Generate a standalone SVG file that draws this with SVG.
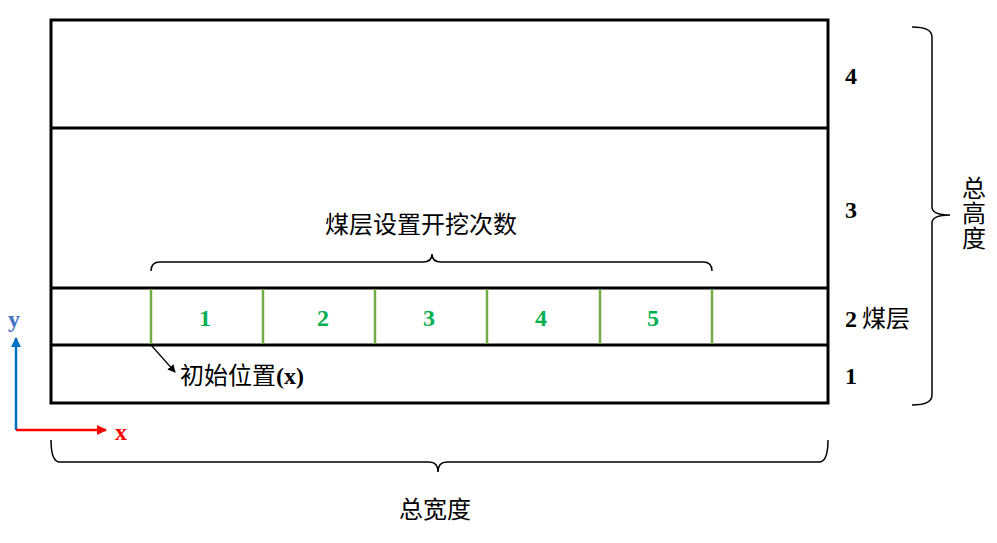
<svg xmlns="http://www.w3.org/2000/svg" width="997" height="543" viewBox="0 0 997 543">
<style>
.b{stroke:#000;stroke-width:3;fill:none}
.g{stroke:#70ad47;stroke-width:2.5}
.br{stroke:#000;stroke-width:1.5;fill:none}
.n{font-family:"Liberation Serif",serif;font-weight:bold;font-size:24px}
.gn{font-family:"Liberation Serif",serif;font-weight:bold;font-size:24px;fill:#00b050;text-anchor:middle}
.c{font-family:"Liberation Serif","Noto Sans CJK SC",serif;font-size:24px}
</style>
<defs>
<marker id="ah" markerWidth="8" markerHeight="8" refX="7" refY="4" orient="auto" markerUnits="userSpaceOnUse"><path d="M0,0L8,4L0,8z" fill="#000"/></marker>
<marker id="ab" markerWidth="10" markerHeight="10" refX="9" refY="5" orient="auto" markerUnits="userSpaceOnUse"><path d="M0,0L10,5L0,10z" fill="#0070c0"/></marker>
<marker id="ar" markerWidth="10" markerHeight="10" refX="9" refY="5" orient="auto" markerUnits="userSpaceOnUse"><path d="M0,0L10,5L0,10z" fill="#ff0000"/></marker>
</defs>
<g id="strata">
<rect class="b" x="51" y="20" width="777" height="383"/>
<line class="b" x1="51" y1="128" x2="828" y2="128"/>
<line class="b" x1="51" y1="288" x2="828" y2="288"/>
<line class="b" x1="51" y1="345" x2="828" y2="345"/>
</g>
<g id="steps">
<line class="g" x1="151" y1="289" x2="151" y2="344"/>
<line class="g" x1="263" y1="289" x2="263" y2="344"/>
<line class="g" x1="375" y1="289" x2="375" y2="344"/>
<line class="g" x1="487" y1="289" x2="487" y2="344"/>
<line class="g" x1="600" y1="289" x2="600" y2="344"/>
<line class="g" x1="712" y1="289" x2="712" y2="344"/>
<text class="gn" x="205" y="326">1</text>
<text class="gn" x="323" y="326">2</text>
<text class="gn" x="429" y="326">3</text>
<text class="gn" x="541" y="326">4</text>
<text class="gn" x="653" y="326">5</text>
</g>
<g id="labels">
<text class="n" x="845" y="84">4</text>
<text class="n" x="845" y="218">3</text>
<text class="n" x="845" y="327">2</text>
<text class="c" x="862" y="327">煤层</text>
<text class="n" x="845" y="384">1</text>
<text class="c" x="325" y="233">煤层设置开挖次数</text>
<text class="c" x="180" y="384">初始位置<tspan font-weight="bold">(x)</tspan></text>
<text class="c" x="399" y="518">总宽度</text>
<text class="c" x="962" y="197">总</text>
<text class="c" x="962" y="222">高</text>
<text class="c" x="962" y="247">度</text>
<text x="8" y="327" font-family="Liberation Serif,serif" font-weight="bold" font-size="24" fill="#4472c4">y</text>
<text x="115" y="440" font-family="Liberation Serif,serif" font-weight="bold" font-size="24" fill="#ff0000">x</text>
</g>
<g id="connectors">
<path class="br" d="M151,271 Q151,262 160,262 L423,262 Q432,262 432,254 Q432,262 441,262 L703,262 Q712,262 712,271"/>
<path class="br" d="M51,440 Q51,462 60,462 L429,462 Q438,462 438,472 Q438,462 447,462 L819,462 Q828,462 828,440"/>
<path class="br" d="M912,27 Q932,27 932,37 L932,207 Q932,215 950,215 Q932,215 932,223 L932,395 Q932,405 912,405"/>
<line x1="151" y1="345" x2="175" y2="372" stroke="#000" stroke-width="1.2" marker-end="url(#ah)"/>
<line x1="16" y1="430" x2="16" y2="338" stroke="#0070c0" stroke-width="2.5" marker-end="url(#ab)"/>
<line x1="16" y1="430" x2="106" y2="430" stroke="#ff0000" stroke-width="2.5" marker-end="url(#ar)"/>
</g>
</svg>
